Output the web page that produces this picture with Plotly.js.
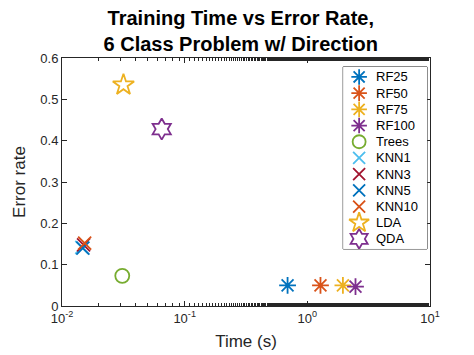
<!DOCTYPE html>
<html><head><meta charset="utf-8">
<script src="https://cdn.plot.ly/plotly-3.0.1.min.js"></script>
<style>body{margin:0;background:#fff}#c{width:474px;height:355px}</style>
</head><body><div id="c"></div>
<script>
const names = ["RF25","RF50","RF75","RF100","Trees","KNN1","KNN3","KNN5","KNN10","LDA","QDA"];
const times = [0.69, 1.28, 1.95, 2.47, 0.031, 0.0145, 0.0150, 0.0148, 0.0153, 0.0317, 0.065];
const errors = [0.050, 0.050, 0.050, 0.047, 0.073, 0.142, 0.148, 0.140, 0.152, 0.535, 0.428];
const colors = ["#0072BD","#D95319","#EDB120","#7E2F8E","#77AC30","#4DBEEE","#A2142F","#0072BD","#D95319","#EDB120","#7E2F8E"];
const symbols = ["asterisk-open","asterisk-open","asterisk-open","asterisk-open","circle-open","x-thin-open","x-thin-open","x-thin-open","x-thin-open","star-open","hexagram-open"];
const sizes = [14,14,14,14,14,13,13,13,13,16,16];
const legendSizes = [13,13,13,13,13,12,12,12,12,15,15];
const xTickVals = [0.01, 0.1, 1, 10];
const xTickText = ["10<sup>-2</sup>","10<sup>-1</sup>","10<sup>0</sup>","10<sup>1</sup>"];

const traces = names.map((n,i)=>({
  type:"scatter", mode:"markers", name:n, showlegend:false,
  x:[times[i]], y:[errors[i]],
  marker:{symbol:symbols[i], color:colors[i], size:sizes[i], line:{color:colors[i], width:1.8}}
}));
// legend entries drawn in a small inset axis (custom legend for tighter spacing)
names.forEach((n,i)=>{
  traces.push({
    type:"scatter", mode:"markers", name:n, showlegend:false, xaxis:"x2", yaxis:"y2",
    x:[16], y:[i],
    marker:{symbol:symbols[i], color:colors[i], size:legendSizes[i], line:{color:colors[i], width:1.8}}
  });
});

const font = "Liberation Sans, Arial, sans-serif";
const annotations = names.map((n,i)=>({
  xref:"x2", yref:"y2", x:31, y:i, text:n, showarrow:false, xanchor:"left", yanchor:"middle",
  font:{family:font, size:13, color:"#000"}
}));

const layout = {
  width:474, height:355,
  margin:{l:62, r:44, t:58, b:49},
  paper_bgcolor:"#fff", plot_bgcolor:"#fff",
  font:{family:font, color:"#262626"},
  title:{text:"<b>Training Time vs Error Rate,<br>6 Class Problem w/ Direction</b>", font:{family:font, size:20, color:"#000"},
    x:0.508, xanchor:"center", yref:"container", y:0.93, yanchor:"middle", automargin:false},
  xaxis:{type:"log", range:[-2,1], tickvals:xTickVals, ticktext:xTickText, tickfont:{size:13, color:"#262626"},
    ticks:"inside", ticklen:5, tickcolor:"#262626", showline:true, linecolor:"#262626", linewidth:1, mirror:"ticks",
    showgrid:false, zeroline:false,
    minor:{ticks:"inside", ticklen:3, tickcolor:"#262626", showgrid:false},
    title:{text:"Time (s)", font:{size:17, color:"#262626"}, standoff:10}},
  yaxis:{range:[0,0.6], dtick:0.1, tickformat:".1~f", tickfont:{size:13, color:"#262626"},
    ticks:"inside", ticklen:5, tickcolor:"#262626", showline:true, linecolor:"#262626", linewidth:1, mirror:"ticks",
    showgrid:false, zeroline:false,
    title:{text:"Error rate", font:{size:17, color:"#262626"}, standoff:10}},
  xaxis2:{domain:[0.764, 0.992], anchor:"y2", range:[0,84], visible:false, fixedrange:true},
  yaxis2:{domain:[0.230, 0.964], anchor:"x2", range:[10.62,-0.62], visible:false, fixedrange:true},
  shapes:[{type:"rect", xref:"x2 domain", yref:"y2 domain", x0:0, x1:1, y0:0, y1:1,
    line:{color:"#262626", width:1}, fillcolor:"#fff", layer:"below"}],
  annotations:annotations,
  showlegend:false
};
Plotly.newPlot("c", traces, layout, {displayModeBar:false, staticPlot:true});
</script></body></html>
